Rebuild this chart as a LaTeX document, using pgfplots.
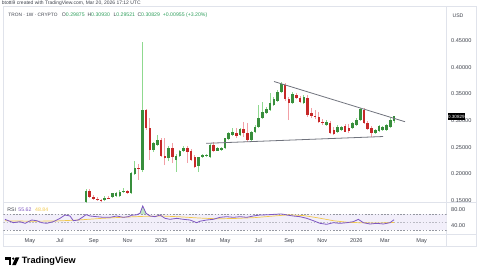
\documentclass[border=0pt]{standalone}
\usepackage{fontspec}
\setmainfont{Liberation Sans}
\usepackage{pgfplots}
\pgfplotsset{compat=1.18}
\usepackage{pgfplotstable}

\definecolor{upbody}{HTML}{388E3C}
\definecolor{upwick}{HTML}{8FD98F}
\definecolor{dnbody}{HTML}{C62828}
\definecolor{dnwick}{HTML}{F2A0A6}
\definecolor{rsiline}{HTML}{7E57C2}
\definecolor{rsima}{HTML}{F2C94C}
\definecolor{rsiband}{HTML}{F2EFFA}
\definecolor{rsihot}{HTML}{BFE6C2}
\definecolor{framegray}{HTML}{E0E3EB}
\definecolor{textgray}{HTML}{3F434D}
\definecolor{trendgray}{HTML}{70737D}
\definecolor{levelgray}{HTML}{9598A1}
\definecolor{valgreen}{HTML}{2E9E5B}

\newcommand\fs[1]{\fontsize{#1}{#1}\selectfont}

% candle segments drawn as explicit error bars, nothing at the point itself
\pgfplotsset{
  candlepart/.style n args={2}{draw=none, mark=none, forget plot,
    error bars/.cd, y dir=plus, y explicit, error mark=none,
    error bar style={draw=#1, line width=#2}},
}

% weekly candles, x = week index (0 = first visible week)
\pgfplotstableread{
i  O       H       L       C
0  0.1468  0.1712  0.1430  0.1675
5  0.1506  0.1581  0.1487  0.1553
7  0.1568  0.1637  0.1543  0.1632
8  0.1581  0.1665  0.1562  0.1637
9  0.1590  0.1693  0.1571  0.1662
10 0.1656  0.1731  0.1637  0.1680
12 0.1632  0.2032  0.1618  0.2008
13 0.1995  0.2244  0.1976  0.2102
15 0.2070  0.4481  0.2032  0.3197
18 0.2446  0.2601  0.2408  0.2571
19 0.2539  0.2727  0.2521  0.2633
22 0.2289  0.2521  0.2239  0.2477
24 0.2257  0.2370  0.2038  0.2333
25 0.2333  0.2446  0.2314  0.2427
26 0.2427  0.2521  0.2408  0.2483
30 0.2145  0.2314  0.2032  0.2314
31 0.2314  0.2370  0.2295  0.2346
32 0.2333  0.2370  0.2314  0.2361
33 0.2314  0.2558  0.2295  0.2539
35 0.2436  0.2502  0.2427  0.2477
36 0.2446  0.2502  0.2427  0.2483
37 0.2477  0.2671  0.2464  0.2665
38 0.2652  0.2784  0.2633  0.2759
39 0.2727  0.2859  0.2709  0.2784
41 0.2727  0.2859  0.2709  0.2840
44 0.2633  0.2803  0.2615  0.2784
45 0.2784  0.2915  0.2765  0.2883
46 0.2883  0.3291  0.2868  0.3047
47 0.3047  0.3353  0.3028  0.3165
48 0.3141  0.3254  0.3122  0.3210
49 0.3197  0.3517  0.3178  0.3329
50 0.3291  0.3442  0.3272  0.3404
51 0.3372  0.3573  0.3357  0.3541
52 0.3536  0.3729  0.3517  0.3686
55 0.3329  0.3536  0.3310  0.3498
58 0.3329  0.3479  0.3310  0.3442
64 0.2915  0.3009  0.2897  0.2977
67 0.2784  0.2915  0.2765  0.2883
68 0.2821  0.2897  0.2803  0.2878
71 0.2859  0.2972  0.2840  0.2953
72 0.2915  0.3047  0.2897  0.3009
73 0.3009  0.3235  0.2991  0.3216
77 0.2765  0.2840  0.2746  0.2821
78 0.2803  0.2915  0.2784  0.2897
79 0.2821  0.2897  0.2803  0.2878
80 0.2821  0.2934  0.2803  0.2915
81 0.2883  0.3047  0.2859  0.3009
82 0.29875 0.30930 0.29521 0.30829
}\upcandles

\pgfplotstableread{
i  O       H       L       C
1  0.1675  0.1712  0.1543  0.1568
2  0.1568  0.1600  0.1506  0.1534
3  0.1534  0.1562  0.1487  0.1506
4  0.1506  0.1524  0.1468  0.1487
6  0.1553  0.1581  0.1524  0.1538
11 0.1675  0.1703  0.1618  0.1637
14 0.2108  0.2182  0.1882  0.2089
16 0.3197  0.3222  0.2822  0.2853
17 0.2853  0.3047  0.2257  0.2446
20 0.2633  0.2671  0.2314  0.2333
21 0.2342  0.2665  0.2163  0.2289
23 0.2477  0.2577  0.2201  0.2320
27 0.2483  0.2521  0.2201  0.2408
28 0.2427  0.2464  0.2239  0.2257
29 0.2314  0.2352  0.2107  0.2126
34 0.2539  0.2601  0.2408  0.2432
40 0.2765  0.2859  0.2671  0.2718
42 0.2840  0.2972  0.2690  0.2765
43 0.2765  0.2953  0.2596  0.2633
53 0.3667  0.3705  0.3367  0.3404
54 0.3404  0.3442  0.3009  0.3329
56 0.3479  0.3517  0.3404  0.3423
57 0.3423  0.3460  0.3329  0.3353
59 0.3423  0.3479  0.3066  0.3103
60 0.3141  0.3235  0.3047  0.3085
61 0.3085  0.3197  0.3028  0.3066
62 0.3066  0.3160  0.2953  0.2977
63 0.2977  0.3028  0.2915  0.2953
65 0.2953  0.2991  0.2746  0.2765
66 0.2821  0.2878  0.2727  0.2746
69 0.2897  0.2934  0.2784  0.2789
70 0.2859  0.2934  0.2765  0.2803
74 0.3197  0.3226  0.2934  0.2953
75 0.2953  0.2991  0.2822  0.2840
76 0.2859  0.2897  0.2690  0.2771
}\downcandles

% RSI(14) and its moving average
\pgfplotstableread{
i      v
-21.57 56.7
-19.36 48.3
-17.57 50.8
-16.24 46.7
-14.46 55.0
-13.13 53.3
-11.79 48.3
-10.46 46.7
-8.71  50.8
-6.92  59.2
-5.59  67.5
-4.26  65.0
-3.38  53.3
-2.05  55.0
-0.72  63.3
0.00   68.5
1.06   65.0
2.85   63.3
4.61   61.7
6.39   61.7
8.17   65.0
9.93   61.7
11.26  63.3
12.17  67.0
13.50  68.0
14.38  72.0
15.10  90.0
15.97  72.0
17.04  65.0
18.37  63.3
19.70  67.5
21.03  59.2
22.36  56.7
24.15  59.2
25.91  56.7
27.69  55.0
29.47  48.3
30.35  52.0
32.14  55.0
33.89  56.7
35.68  61.7
37.46  63.3
39.22  61.7
41.00  63.3
42.79  61.7
44.54  65.0
46.33  67.5
48.11  68.0
49.87  69.0
51.65  70.0
52.53  69.5
53.43  67.5
55.19  65.0
56.98  63.3
58.76  59.2
60.52  53.3
62.30  46.7
64.08  44.2
65.84  48.3
67.63  46.7
69.41  48.3
71.17  50.8
72.50  56.7
73.83  48.3
75.61  45.0
77.40  46.7
79.15  45.0
80.94  48.3
82.00  55.62
}\rsidata

\pgfplotstableread{
i      v
-21.57 53.0
-15.00 52.0
-8.00  52.5
-2.00  55.0
4.00   59.0
10.00  62.0
15.00  64.0
20.00  65.0
25.00  63.0
30.00  60.0
35.00  58.0
40.00  59.0
45.00  61.0
50.00  65.0
54.00  68.0
58.00  66.0
62.00  60.0
66.00  53.0
70.00  49.0
74.00  48.0
78.00  47.5
82.00  48.84
}\rsima

\begin{document}
\begin{tikzpicture}[x=1bp,y=1bp]
\path[use as bounding box] (0,0) rectangle (480,270);

% pane frame and separators
\draw[framegray, line width=0.6bp] (3.3,263.3) rectangle (476,23.3);
\draw[framegray, line width=0.6bp] (446.7,263.3) -- (446.7,23.3);
\draw[framegray, line width=0.6bp] (3.3,67.5) -- (476,67.5);
\draw[framegray, line width=0.6bp] (3.3,36) -- (476,36);

% price pane
\begin{axis}[
  at={(3.3bp,67.5bp)}, anchor=south west,
  scale only axis, width=443.4bp, height=195.8bp,
  xmin=-22.02, xmax=96.03, ymin=0.1459, ymax=0.5139,
  axis line style={draw=none}, major tick style={draw=none},
  major tick length=0pt,
  xtick=\empty,
  ytick={0.15,0.20,0.25,0.30,0.35,0.40,0.45},
  yticklabel pos=right,
  /pgf/number format/assume math mode=true,
  yticklabel style={font=\fs{5.6}, text=textgray, anchor=west,
    inner sep=0pt, xshift=4.3bp,
    /pgf/number format/fixed, /pgf/number format/fixed zerofill,
    /pgf/number format/precision=5},
  clip=true,
]
% wicks
\addplot[candlepart={upwick}{0.9bp}]
  table[x=i, y=L, y error plus expr=\thisrow{H}-\thisrow{L}] {\upcandles};
\addplot[candlepart={dnwick}{0.9bp}]
  table[x=i, y=L, y error plus expr=\thisrow{H}-\thisrow{L}] {\downcandles};
% bodies
\addplot[candlepart={upbody}{2.6bp}]
  table[x=i, y=O, y error plus expr=\thisrow{C}-\thisrow{O}] {\upcandles};
\addplot[candlepart={dnbody}{2.6bp}]
  table[x=i, y=C, y error plus expr=\thisrow{O}-\thisrow{C}] {\downcandles};
% trendlines of the triangle
\addplot[trendgray, line width=0.8bp] coordinates {(50.05,0.3733) (84.93,0.2977)};
\addplot[trendgray, line width=0.8bp] coordinates {(31.95,0.2571) (79.07,0.2699)};
\end{axis}

% RSI pane
\begin{axis}[
  at={(3.3bp,36bp)}, anchor=south west,
  scale only axis, width=443.4bp, height=31.5bp,
  xmin=-22.02, xmax=96.03, ymin=20, ymax=98.75,
  axis line style={draw=none}, major tick style={draw=none},
  major tick length=0pt,
  ytick={40,80},
  yticklabel pos=right,
  /pgf/number format/assume math mode=true,
  yticklabel style={font=\fs{5.6}, text=textgray, anchor=west,
    inner sep=0pt, xshift=4.3bp,
    /pgf/number format/fixed, /pgf/number format/fixed zerofill,
    /pgf/number format/precision=2},
  xtick={-14.91,-6.92,2.08,11.05,20.05,27.88,37.01,45.87,54.13,62.91,71.96,79.55,89.38},
  xticklabels={May,Jul,Sep,Nov,2025,Mar,May,Jul,Sep,Nov,2026,Mar,May},
  xticklabel style={font=\fs{5.6}, text=textgray, anchor=base,
    inner sep=0pt, yshift=-8.7bp},
  clip=true,
]
\addplot[fill=rsiband, draw=none, forget plot]
  coordinates {(-22.02,30) (96.03,30) (96.03,70) (-22.02,70)} -- cycle;
\addplot[levelgray, line width=0.5bp, dash pattern=on 1.6bp off 1.6bp]
  coordinates {(-22.02,70) (96.03,70)};
\addplot[levelgray, line width=0.5bp, dash pattern=on 1.6bp off 1.6bp, opacity=0.6]
  coordinates {(-22.02,50) (96.03,50)};
\addplot[levelgray, line width=0.5bp, dash pattern=on 1.6bp off 1.6bp]
  coordinates {(-22.02,30) (96.03,30)};
\addplot[fill=rsihot, draw=none]
  coordinates {(13.94,70) (14.38,72) (15.10,90) (15.97,72) (16.28,70)} -- cycle;
\addplot[rsima, line width=0.7bp] table[x=i, y=v] {\rsima};
\addplot[rsiline, line width=0.8bp] table[x=i, y=v] {\rsidata};
\end{axis}

% header
\node[anchor=west, inner sep=0pt, font=\fs{5}, text=textgray] at (1.7,267)
  {btotti9 created with TradingView.com, Mar 20, 2026 17:12 UTC};
\begin{scope}[every node/.style={anchor=west, inner sep=0pt, font=\fs{5.2}, text=textgray}]
\node[font=\fs{4.8}] at (8.3,255) {TRON · 1W · CRYPTO};
\node at (61.7,255) {O\textcolor{valgreen}{0.29875}};
\node at (87.3,255) {H\textcolor{valgreen}{0.30930}};
\node at (113.3,255) {L\textcolor{valgreen}{0.29521}};
\node at (137.3,255) {C\textcolor{valgreen}{0.30829}};
\node[text=valgreen] at (162.7,255) {+0.00955 (+3.20\%)};
\end{scope}

% price scale extras
\node[inner sep=0pt, font=\fs{5.2}, text=textgray] at (458,254.3) {USD};
\fill[black] (448,156.7) rectangle (464.8,150.4);
\node[inner sep=0pt, font=\fs{4.6}, text=white] at (456.4,153.5) {0.30829};

% RSI legend
\node[anchor=west, inner sep=0pt, font=\fs{5.2}, text=textgray] at (7.3,60.7) {RSI};
\node[anchor=west, inner sep=0pt, font=\fs{5.2}, text=rsiline] at (18.3,60.7) {55.62};
\node[anchor=west, inner sep=0pt, font=\fs{5.2}, text=rsima] at (35,60.7) {48.84};

% brand mark
\fill[black] (5,12.7) rectangle (11.2,10.5);
\fill[black] (8.6,12.7) rectangle (11.2,5);
\fill[black] (13.3,11.4) circle (1.25);
\fill[black] (15.6,12.7) -- (19.4,12.7) -- (15.8,5) -- (12.2,5) -- cycle;
\node[anchor=west, inner sep=0pt, font=\fs{9.2}\bfseries, text=black] at (21.7,9) {TradingView};
\end{tikzpicture}
\end{document}
